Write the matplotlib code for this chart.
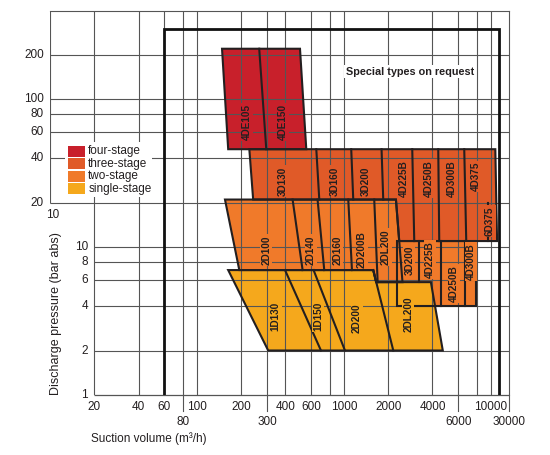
import matplotlib
matplotlib.use('Agg')
import matplotlib.pyplot as plt
from matplotlib.patches import Polygon, Rectangle
from matplotlib import transforms

plt.rcParams['font.family'] = ['Liberation Sans', 'DejaVu Sans']

W, H = 550, 455

stage_names = ['four-stage', 'three-stage', 'two-stage', 'single-stage']
stage_colors = ['#c8202b', '#e05a28', '#f07a2a', '#f5a81c']

# range outlines: (suction volume m3/h, discharge pressure bar abs)
four_stage = [(148, 220), (502, 220), (554, 46), (163, 46)]
three_stage = [(227, 46), (10700, 46), (11000, 11), (2375, 11), (2256, 21), (241, 21)]
two_stage = [(155, 21), (2256, 21), (2500, 5.8), (1655, 5.8), (1581, 7), (194, 7)]
two_stage_4d = [(2300, 11), (7900, 11), (7900, 4), (2300, 4)]
single_stage = [(163, 7), (1581, 7), (1655, 5.8), (3900, 5.8), (4700, 2), (305, 2)]

# lines between the compressor types
four_div = [[(265, 220), (296, 46)]]
three_div = [[(648, 46), (679, 21)], [(1120, 46), (1156, 21)], [(1801, 46), (1849, 21)],
             [(2913, 46), (3006, 11)], [(4377, 46), (4446, 11)], [(6577, 46), (6787, 11)],
             [(9580, 20), (9580, 11)]]
two_div = [[(447, 21), (523, 7)], [(661, 21), (734, 7)], [(1069, 21), (1133, 7)],
           [(1606, 21), (1694, 5.8)]]
two_4d_div = [[(3230, 11), (3230, 5.8)], [(4570, 11), (4570, 4)], [(6650, 11), (6650, 4)]]
single_div = [[(397, 7), (697, 2)], [(621, 7), (1015, 2)], [(1581, 7), (2164, 2)]]

type_labels = ['4DE105', '4DE150', '3D130', '3D160', '3D200', '4D225B', '4D250B', '4D300B',
               '4D375', '6D375', '2D100', '2D140', '2D160', '2D200B', '2DL200', '3D200',
               '4D225B', '4D250B', '4D300B', '1D130', '1D150', '2D200', '2DL200']
label_x = [220, 385, 385, 860, 1410, 2570, 3800, 5430, 7900, 9800, 297, 595, 900, 1325,
           1930, 2780, 3860, 5560, 7300, 344, 668, 1225, 2736]
label_y = [70, 70, 28, 28, 28, 29, 29, 29, 30, 15, 9.6, 9.6, 9.6, 9.6, 10, 8.2, 8.2, 5.7,
           8.0, 3.4, 3.4, 3.3, 3.5]
label_stage = [0, 0, 1, 1, 1, 1, 1, 1, 1, 1, 2, 2, 2, 2, 2, 2, 2, 2, 2, 3, 3, 3, 3]

upper_y_ticks = [200, 100, 80, 60, 40, 20]
lower_y_ticks = [10, 8, 6, 4, 2, 1]
x_ticks_row1 = [20, 40, 60, 100, 200, 400, 600, 1000, 2000, 4000, 10000]
x_ticks_row2 = [80, 300, 6000, 13300]
x_labels_row2 = ['80', '300', '6000', '30000']
x_grid = [20, 40, 60, 80, 100, 200, 300, 400, 600, 800, 1000, 2000, 4000, 6000, 8000, 10000]
special_box = (60, 11250, 300)   # left, right, top

XMIN, XMAX, YMIN, YMAX = 10, 13300, 1, 396
EDGE = '#231f20'
GRID = '#555555'
TXT = '#231f20'


def fx(px):
    return px / W


def fy(py):
    return 1 - py / H


fig = plt.figure(figsize=(W / 100, H / 100), dpi=100)
ax = fig.add_axes([fx(50), fy(395), 459.2 / W, 384 / H])
ax.set_xscale('log')
ax.set_yscale('log')
ax.set_xlim(XMIN, XMAX)
ax.set_ylim(YMIN, YMAX)
ax.tick_params(which='both', bottom=False, left=False, labelbottom=False, labelleft=False)
ax.spines['left'].set_visible(False)
ax.spines['bottom'].set_visible(False)
for s in ['top', 'right']:
    ax.spines[s].set_color(GRID)
    ax.spines[s].set_linewidth(0.8)

# grid (upper part of the chart starts at 10 m3/h)
ax.vlines(XMIN, 20, YMAX, color=GRID, lw=0.8, zorder=2)
ax.vlines(x_grid, YMIN, YMAX, color=GRID, lw=0.8, zorder=2)
ax.hlines(upper_y_ticks, XMIN, XMAX, color=GRID, lw=0.8, zorder=2)
ax.hlines(lower_y_ticks[:-1], 20, XMAX, color=GRID, lw=0.8, zorder=2)
ax.hlines(YMIN, 20, XMAX, color=GRID, lw=0.9, zorder=2, clip_on=False)

# ranges
groups = [(three_stage, three_div, 1), (two_stage_4d, two_4d_div, 2), (two_stage, two_div, 2),
          (single_stage, single_div, 3), (four_stage, four_div, 0)]
for i, (pts, divs, st) in enumerate(groups):
    ax.add_patch(Polygon(pts, closed=True, fc=stage_colors[st], ec='none', zorder=1 + i * 0.1))
    ax.add_patch(Polygon(pts, closed=True, fill=False, ec=EDGE, lw=1.5, zorder=3,
                         joinstyle='miter'))
    for (x0, y0), (x1, y1) in divs:
        ax.plot([x0, x1], [y0, y1], color=EDGE, lw=1.5, zorder=3)

for t, x, y, st in zip(type_labels, label_x, label_y, label_stage):
    ax.text(x, y, t, rotation=90, ha='center', va='center', fontsize=7.2, fontweight='bold',
            color=TXT, zorder=4,
            bbox=dict(boxstyle='square,pad=0.1', fc=stage_colors[st], ec='none'))

# special types frame
left, right, top = special_box
ax.plot([left, left, right, right], [YMIN, top, top, YMIN], color='#111111', lw=2.0,
        zorder=3, solid_joinstyle='miter')
ax.text(2800, 154, 'Special types on request', ha='center', va='center', fontsize=7.8,
        fontweight='bold', color=TXT, zorder=4,
        bbox=dict(boxstyle='square,pad=0.15', fc='white', ec='none'))

# tick labels
tx = transforms.blended_transform_factory(ax.transData, fig.transFigure)
ty = transforms.blended_transform_factory(fig.transFigure, ax.transData)
for v in x_ticks_row1:
    fig.text(v, fy(406.7), str(v), transform=tx, ha='center', va='center', fontsize=8.5,
             color=TXT)
for v, lab in zip(x_ticks_row2, x_labels_row2):
    fig.text(v, fy(421.7), lab, transform=tx, ha='center', va='center', fontsize=8.5,
             color=TXT)
    ax.plot([v, v], [fy(395), fy(411)], transform=tx, color=GRID, lw=0.8, clip_on=False)
for v in upper_y_ticks:
    fig.text(fx(44), v, str(v), transform=ty, ha='right', va='center', fontsize=8.5,
             color=TXT)
for v in lower_y_ticks:
    fig.text(fx(88), v, str(v), transform=ty, ha='right', va='center', fontsize=8.5,
             color=TXT)
fig.text(fx(52.5), fy(215), '10', ha='center', va='center', fontsize=8.5, color=TXT)

fig.text(fx(91), fy(438.3), 'Suction volume (m³/h)', ha='left', va='center', fontsize=8.5,
         color=TXT)
fig.text(fx(56), fy(395), 'Discharge pressure (bar abs)', rotation=90, ha='center',
         va='bottom', fontsize=9, color=TXT)

# legend
fig.add_artist(Rectangle((fx(65), fy(197)), 87 / W, 55 / H, transform=fig.transFigure,
                         fc='white', ec='none', zorder=5))
for i, (name, col) in enumerate(zip(stage_names, stage_colors)):
    top_px = 146 + i * 12.4
    fig.add_artist(Rectangle((fx(68.3), fy(top_px + 11)), 16.7 / W, 11 / H,
                             transform=fig.transFigure, fc=col, ec='none', zorder=6))
    fig.text(fx(88.3), fy(top_px + 5.5), name, ha='left', va='center', fontsize=8.5,
             color=TXT, zorder=6)

fig.savefig('out.png', dpi=100)
